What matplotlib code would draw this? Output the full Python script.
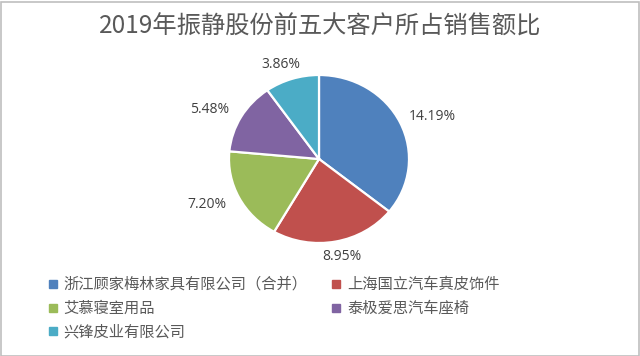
import numpy as np
import matplotlib
matplotlib.use("Agg")
import matplotlib.pyplot as plt
from matplotlib.patches import Rectangle
from matplotlib.lines import Line2D

plt.rcParams['font.family'] = ['Noto Sans CJK SC', 'DejaVu Sans']

title = "2019年振静股份前五大客户所占销售额比"
customers = ["浙江顾家梅林家具有限公司（合并）", "上海国立汽车真皮饰件",
             "艾慕寝室用品", "泰极爱思汽车座椅", "兴锋皮业有限公司"]
shares = [14.19, 8.95, 7.20, 5.48, 3.86]
colors = ["#4F81BD", "#C0504D", "#9BBB59", "#8064A2", "#4BACC6"]

W, H = 640, 356
fig = plt.figure(figsize=(W / 100, H / 100), dpi=100)
fig.patch.set_facecolor("white")

# pie axes (slightly elliptical as in the reference)
cx, cy, rx, ry = 319, 159, 90, 84
ax = fig.add_axes([(cx - rx) / W, (H - cy - ry) / H, 2 * rx / W, 2 * ry / H])
wedges, _ = ax.pie(shares, colors=colors, startangle=90, counterclock=False,
                   radius=1.0, wedgeprops=dict(edgecolor="white", linewidth=1.6))
ax.set_aspect("auto")
ax.set_xlim(-1, 1)
ax.set_ylim(-1, 1)
ax.axis("off")

# data labels just outside each wedge
hw, hh, gap = 28, 7, 8  # pixel half width / half height of label box, gap
for w, v in zip(wedges, shares):
    ang = np.deg2rad((w.theta1 + w.theta2) / 2)
    c, s = np.cos(ang), np.sin(ang)
    ax.annotate(f"{v:.2f}%", xy=(c, s), xycoords="data",
                xytext=(c * (hw + gap) * 0.72, s * (hh + gap) * 0.72),
                textcoords="offset points", ha="center", va="center",
                fontsize=10, color="#404040", family=["Open Sans", "DejaVu Sans"],
                annotation_clip=False)

# title
fig.text(0.5, 1 - 27 / H, title, ha="center", va="center",
         fontsize=17.5, color="#595959")

# legend (row-major order like the reference)
handles = [Line2D([], [], marker="s", linestyle="none", markersize=6,
                  markerfacecolor=col, markeredgecolor=col) for col in colors]
order = [0, 2, 4, 1, 3]
leg = fig.legend([handles[i] for i in order], [customers[i] for i in order],
                 ncol=2, loc="upper left", bbox_to_anchor=(48 / W, 1 - 276 / H),
                 frameon=False, fontsize=11, handlelength=0.6, handletextpad=0.4,
                 columnspacing=1.6, labelspacing=0.45, borderaxespad=0, borderpad=0)
for t in leg.get_texts():
    t.set_color("#595959")

# chart border
fig.add_artist(Rectangle((0.5 / W, 0.5 / H), 1 - 2 / W, 1 - 2 / H,
                         transform=fig.transFigure, fill=False,
                         edgecolor="#BFBFBF", linewidth=1.2))

fig.savefig("out.png", dpi=100)
